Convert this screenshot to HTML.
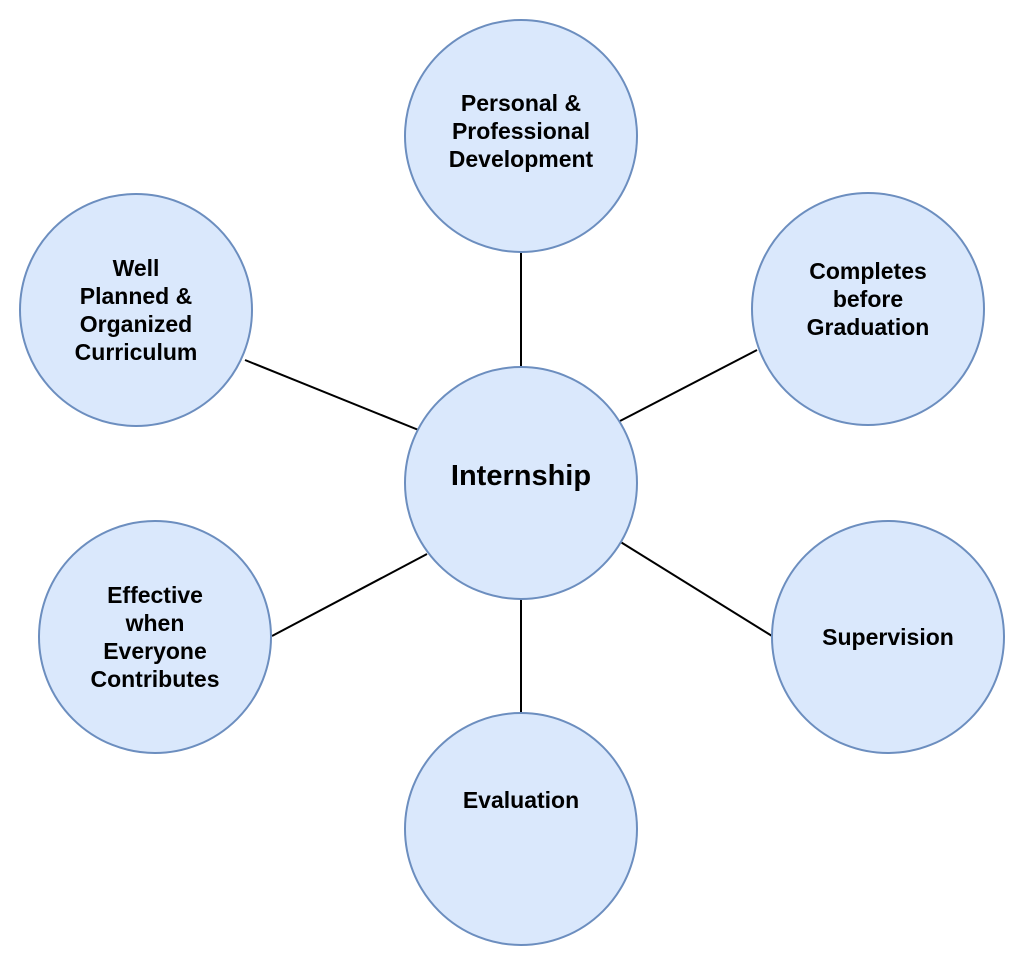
<!DOCTYPE html>
<html><head><meta charset="utf-8"><style>
html,body{margin:0;padding:0;background:#fff;}
svg{display:block;}
text{font-family:"Liberation Sans",Arial,sans-serif;font-weight:bold;fill:#000;text-anchor:middle;}
</style></head><body>
<svg width="1024" height="966" viewBox="0 0 1024 966">
<g stroke="#000" stroke-width="2">
<line x1="521" y1="252" x2="521" y2="368"/>
<line x1="757" y1="350" x2="620" y2="421"/>
<line x1="619" y1="541" x2="772" y2="636"/>
<line x1="521" y1="599" x2="521" y2="714"/>
<line x1="272" y1="636" x2="427" y2="554"/>
<line x1="245" y1="360" x2="421" y2="431"/>
</g>
<g fill="#dae8fc" stroke="#6c8ebf" stroke-width="2">
<circle cx="521" cy="483" r="116"/>
<circle cx="521" cy="136" r="116"/>
<circle cx="868" cy="309" r="116"/>
<circle cx="888" cy="637" r="116"/>
<circle cx="521" cy="829" r="116"/>
<circle cx="155" cy="637" r="116"/>
<circle cx="136" cy="310" r="116"/>
</g>
<text x="521" y="485" font-size="29">Internship</text>
<g font-size="23">
<text x="521" y="111">Personal &amp;</text>
<text x="521" y="139">Professional</text>
<text x="521" y="167">Development</text>
<text x="868" y="279">Completes</text>
<text x="868" y="307">before</text>
<text x="868" y="335">Graduation</text>
<text x="888" y="645">Supervision</text>
<text x="521" y="808">Evaluation</text>
<text x="155" y="603">Effective</text>
<text x="155" y="631">when</text>
<text x="155" y="659">Everyone</text>
<text x="155" y="687">Contributes</text>
<text x="136" y="276">Well</text>
<text x="136" y="304">Planned &amp;</text>
<text x="136" y="332">Organized</text>
<text x="136" y="360">Curriculum</text>
</g>
</svg>
</body></html>
